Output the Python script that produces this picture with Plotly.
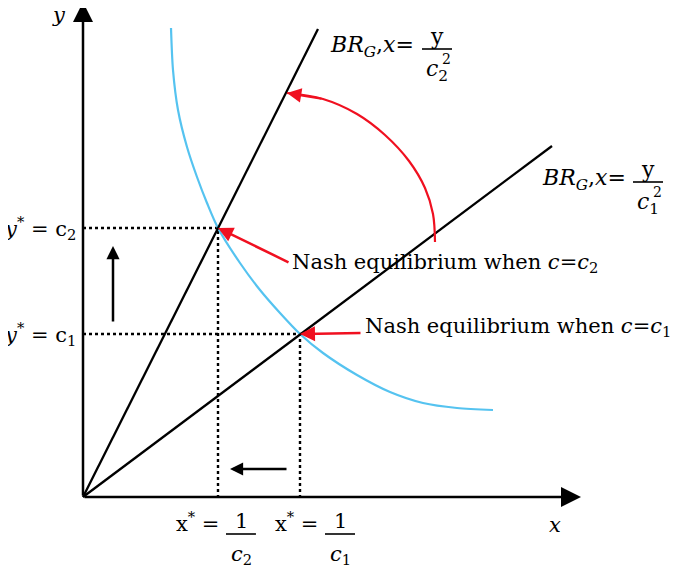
import plotly.graph_objects as go

# ---- data (diagram units; origin = (0, 0)) ----
eq_names = ["c1", "c2"]
eq_x = [217, 135]            # x* for c1, c2
eq_y = [163, 269]            # y* for c1, c2
br_end_x = [469, 235]        # end of best-response lines
br_end_y = [351, 468]
curve_x = [88, 90, 95, 104, 114, 124, 135, 157, 177, 197, 217, 240, 274, 307, 340, 374, 410]
curve_y = [469, 427, 387, 350, 320, 294, 269, 234, 207, 184, 163, 144, 122, 105, 94, 89, 87]
arc_x = [352, 350, 342, 326, 302, 274, 240, 204]
arc_y = [255, 283, 309, 336, 362, 383, 398, 404]
axis_x_max = 498
axis_y_max = 495
nash_tail_x = [279, 207]
nash_tail_y = [164, 234]
nash_text_x = [280, 207]
nash_text_y = [170, 234]
xlabel_frac_x = [257, 158]   # centre of the 1/c fraction under each x*
shift_up_x = [30, 30]
shift_up_y = [174, 251]
shift_left_x = [205, 147]
shift_left_y = [28, 28]

FONT = "DejaVu Serif"
FS = 21
FS_NASH = 21
BLACK = "#000000"
RED = "#f01020"
BLUE = "#55c3f0"

fig = go.Figure()

# dotted guide lines
for ex, ey in zip(eq_x, eq_y):
    fig.add_trace(go.Scatter(x=[0, ex, ex], y=[ey, ey, 0], mode="lines",
                             line=dict(color=BLACK, width=2.4, dash="3px,3px"),
                             hoverinfo="skip"))

# indifference curve
fig.add_trace(go.Scatter(x=curve_x, y=curve_y, mode="lines",
                         line=dict(color=BLUE, width=2.2, shape="spline", smoothing=0.8),
                         hoverinfo="skip"))

# best response lines
for bx, by in zip(br_end_x, br_end_y):
    fig.add_trace(go.Scatter(x=[0, bx], y=[0, by], mode="lines",
                             line=dict(color=BLACK, width=2.3), hoverinfo="skip"))

# red rotation arc
fig.add_trace(go.Scatter(x=arc_x, y=arc_y, mode="lines",
                         line=dict(color=RED, width=2.2, shape="spline", smoothing=1.0),
                         hoverinfo="skip"))

ann = []


def arrow(x0, y0, x1, y1, color, width, size):
    ann.append(dict(x=x1, y=y1, ax=x0, ay=y0, xref="x", yref="y", axref="x", ayref="y",
                    text="", showarrow=True, arrowhead=2, arrowsize=size,
                    arrowwidth=width, arrowcolor=color, standoff=0, startstandoff=0))


# axes
arrow(0, 0, axis_x_max, 0, BLACK, 2.5, 1.6)
arrow(0, 0, 0, axis_y_max, BLACK, 2.5, 1.6)
# red arc head (short segment along the arc's end direction)
arrow(arc_x[-2], arc_y[-2], arc_x[-1], arc_y[-1], RED, 2.2, 1.3)
# nash arrows
for tx, ty, ex, ey in zip(nash_tail_x, nash_tail_y, eq_x, eq_y):
    arrow(tx, ty, ex, ey, RED, 2.5, 1.2)
# shift arrows
arrow(shift_up_x[0], shift_up_y[0], shift_up_x[1], shift_up_y[1], BLACK, 2.5, 1.05)
arrow(shift_left_x[0], shift_left_y[0], shift_left_x[1], shift_left_y[1], BLACK, 2.5, 1.05)


def txt(x, y, s, xanchor="center", size=FS):
    ann.append(dict(x=x, y=y, xref="x", yref="y", text=s, showarrow=False,
                    xanchor=xanchor, yanchor="middle",
                    font=dict(family=FONT, size=size, color=BLACK)))


# axis labels
txt(-24, 482, "<i>y</i>")
txt(472, -28, "<i>x</i>")

# Nash labels
for i, (nx, ny) in enumerate(zip(nash_text_x, nash_text_y)):
    sub = "1" if i == 0 else "2"
    txt(nx, ny, "Nash equilibrium when <i>c</i>=<i>c</i><sub>%s</sub>" % sub,
        xanchor="left", size=FS_NASH)

# y* labels
for ey, sub in zip(eq_y, ["1", "2"]):
    txt(-5, ey, "<i>y</i><sup>*</sup> = c<sub>%s</sub>" % sub, xanchor="right")

shapes = []


def frac(cx, ybar, num, den, size, sup=None, w=30):
    txt(cx, ybar + 13, num, size=size)
    txt(cx, ybar - 21, den, size=size)
    shapes.append(dict(type="line", xref="x", yref="y", x0=cx - w / 2, x1=cx + w / 2,
                       y0=ybar, y1=ybar, line=dict(color=BLACK, width=1.6)))
    if sup:
        txt(cx + 9, ybar - 10, sup, size=14)


# x* labels
for cx, sub in zip(xlabel_frac_x, ["1", "2"]):
    txt(cx - 20, -25, "x<sup>*</sup> =", xanchor="right")
    frac(cx, -37, "1", "<i>c</i><sub>%s</sub>" % sub, FS)

# BR labels
br_lab = [(457, 315, 565, "1"), (245, 448, 354, "2")]
for lx, bar_y, fx, sub in br_lab:
    txt(lx, bar_y + 3, "<i>BR</i><sub><i>G</i></sub>,<i>x</i>=", xanchor="left", size=22)
    frac(fx, bar_y, "y", "<i>c</i><sub>%s</sub>" % sub, 22, sup="2")

fig.update_layout(
    width=685, height=565, margin=dict(l=0, r=0, t=0, b=0),
    paper_bgcolor="white", plot_bgcolor="white", showlegend=False,
    xaxis=dict(range=[-75, 610], visible=False, fixedrange=True),
    yaxis=dict(range=[-76, 489], visible=False, fixedrange=True),
    annotations=ann, shapes=shapes,
)
fig.write_html("out.html")
